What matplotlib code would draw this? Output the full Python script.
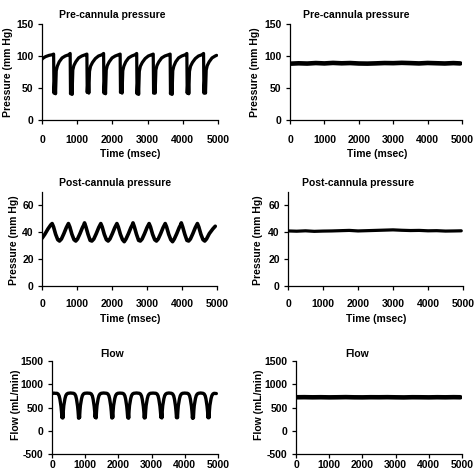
import matplotlib
matplotlib.use("Agg")
import matplotlib.pyplot as plt

# ---------------- data ----------------
# Pre-cannula pressure, pulsatile (left)
pre_t = [0, 40, 100, 200, 290,
         330, 340, 365, 385, 405, 435, 490, 570, 660, 760,
         800, 810, 835, 855, 875, 905, 960, 1040, 1130, 1230,
         1275, 1285, 1310, 1330, 1350, 1380, 1435, 1515, 1605, 1705,
         1750, 1760, 1785, 1805, 1825, 1855, 1910, 1990, 2080, 2175,
         2220, 2230, 2255, 2275, 2295, 2325, 2380, 2460, 2550, 2645,
         2690, 2700, 2725, 2745, 2765, 2795, 2850, 2930, 3020, 3115,
         3160, 3170, 3195, 3215, 3235, 3265, 3320, 3400, 3490, 3595,
         3640, 3650, 3675, 3695, 3715, 3745, 3800, 3880, 3970, 4070,
         4115, 4125, 4150, 4170, 4190, 4220, 4275, 4355, 4445, 4545,
         4590, 4600, 4625, 4645, 4665, 4695, 4750, 4830, 4920, 4960]
pre_p = [95, 97, 99, 101, 102,
         103, 42, 68, 41, 77, 84, 91, 97, 100, 102,
         104, 41, 66, 40, 78, 85, 91, 97, 100, 102,
         103, 43, 69, 42, 76, 84, 90, 96, 100, 102,
         104, 42, 67, 41, 78, 85, 91, 97, 100, 102,
         103, 43, 68, 42, 77, 84, 91, 97, 100, 102,
         104, 41, 67, 40, 76, 84, 90, 96, 100, 102,
         103, 42, 68, 42, 78, 85, 91, 97, 100, 102,
         103, 41, 66, 40, 77, 84, 91, 97, 100, 102,
         104, 42, 68, 41, 76, 84, 90, 96, 100, 102,
         104, 42, 67, 42, 78, 85, 91, 97, 100, 101]

# Post-cannula pressure, pulsatile (left)
post_t = [0, 80, 170, 250, 290, 330, 390, 450, 500, 555,
          625, 695, 735, 755, 795, 855, 915, 965, 1015,
          1085, 1155, 1195, 1215, 1255, 1315, 1375, 1425, 1480,
          1550, 1620, 1660, 1680, 1720, 1780, 1840, 1890, 1940,
          2010, 2080, 2120, 2140, 2180, 2240, 2300, 2350, 2400,
          2470, 2540, 2580, 2600, 2640, 2700, 2760, 2810, 2860,
          2930, 3000, 3040, 3060, 3100, 3160, 3220, 3270, 3320,
          3390, 3460, 3500, 3520, 3560, 3620, 3680, 3730, 3780,
          3850, 3920, 3960, 3980, 4020, 4080, 4140, 4190, 4240,
          4310, 4380, 4420, 4440, 4480, 4540, 4600, 4650, 4700,
          4780, 4880, 4950]
post_p = [35.5, 38.5, 42.5, 45.5, 46.5, 44, 38.5, 34.5, 33.5, 35,
          39, 43.5, 45.5, 46.5, 44, 38.5, 34.5, 33.5, 35,
          39, 43.5, 45.5, 47, 44, 38.5, 34, 33.5, 35,
          39, 43.5, 45.5, 46.5, 44, 38.5, 34.5, 33.5, 35,
          39, 43.5, 45.5, 46.5, 44, 38.5, 34.5, 33, 35,
          39, 43.5, 45.5, 47, 44, 38.5, 34, 33.5, 35,
          39, 43.5, 45.5, 46.5, 44, 38.5, 34.5, 33.5, 35,
          39, 43.5, 45.5, 46.5, 44, 38.5, 34.5, 33, 35,
          39, 43.5, 45.5, 47, 44, 38.5, 34, 33.5, 35,
          39, 43.5, 45.5, 46.5, 44, 38.5, 34.5, 33.5, 35,
          39, 42.5, 44.5]

# Flow, pulsatile (left)
flow_t = [0, 50, 100,
          150, 185, 215, 238, 255, 270, 285, 300, 315, 330, 342, 355, 370, 390, 415, 445, 480, 555,
          650, 685, 715, 738, 755, 770, 785, 800, 815, 830, 842, 855, 870, 890, 915, 945, 980, 1055,
          1150, 1185, 1215, 1238, 1255, 1270, 1285, 1300, 1315, 1330, 1342, 1355, 1370, 1390, 1415, 1445, 1480, 1555,
          1650, 1685, 1715, 1738, 1755, 1770, 1785, 1800, 1815, 1830, 1842, 1855, 1870, 1890, 1915, 1945, 1980, 2045,
          2130, 2165, 2195, 2218, 2235, 2250, 2265, 2280, 2295, 2310, 2322, 2335, 2350, 2370, 2395, 2425, 2460, 2545,
          2630, 2665, 2695, 2718, 2735, 2750, 2765, 2780, 2795, 2810, 2822, 2835, 2850, 2870, 2895, 2925, 2960, 3045,
          3130, 3165, 3195, 3218, 3235, 3250, 3265, 3280, 3295, 3310, 3322, 3335, 3350, 3370, 3395, 3425, 3460, 3520,
          3600, 3635, 3665, 3688, 3705, 3720, 3735, 3750, 3765, 3780, 3792, 3805, 3820, 3840, 3865, 3895, 3930, 3995,
          4080, 4115, 4145, 4168, 4185, 4200, 4215, 4230, 4245, 4260, 4272, 4285, 4300, 4320, 4345, 4375, 4410, 4475,
          4550, 4585, 4615, 4638, 4655, 4670, 4685, 4700, 4715, 4730, 4742, 4755, 4770, 4790, 4815, 4845, 4880,
          4950]
flow_v = [795, 810, 805,
          805, 790, 750, 680, 600, 530, 420, 280, 390, 275, 430, 540, 610, 690, 755, 790, 805, 812,
          805, 790, 750, 680, 600, 530, 420, 270, 390, 280, 430, 540, 610, 690, 755, 790, 805, 810,
          805, 790, 750, 680, 600, 530, 420, 285, 390, 275, 430, 540, 610, 690, 755, 790, 805, 812,
          805, 790, 750, 680, 600, 530, 420, 275, 390, 280, 430, 540, 610, 690, 755, 790, 805, 810,
          805, 790, 750, 680, 600, 530, 420, 280, 390, 270, 430, 540, 610, 690, 755, 790, 805, 812,
          805, 790, 750, 680, 600, 530, 420, 275, 390, 280, 430, 540, 610, 690, 755, 790, 805, 810,
          805, 790, 750, 680, 600, 530, 420, 285, 390, 275, 430, 540, 610, 690, 755, 790, 805, 812,
          805, 790, 750, 680, 600, 530, 420, 280, 390, 280, 430, 540, 610, 690, 755, 790, 805, 810,
          805, 790, 750, 680, 600, 530, 420, 270, 390, 275, 430, 540, 610, 690, 755, 790, 805, 812,
          805, 790, 750, 680, 600, 530, 420, 280, 390, 280, 430, 540, 610, 690, 755, 790, 805,
          800]

# Non-pulsatile traces (right)
flat_t = [0, 250, 500, 750, 1000, 1250, 1500, 1750, 2000, 2250, 2500,
          2750, 3000, 3250, 3500, 3750, 4000, 4250, 4500, 4750, 4950]
pre_flat = [88, 88.6, 88.2, 89.0, 88.4, 89.2, 88.6, 89.0, 88.3, 88.1, 88.5,
            89.0, 88.8, 89.3, 88.9, 88.4, 89.1, 88.7, 88.3, 88.9, 88.4]
post_flat = [41, 40.8, 41.1, 40.7, 40.9, 41.0, 41.2, 41.4, 41.0, 41.2, 41.4,
             41.6, 41.8, 41.5, 41.3, 41.4, 41.1, 41.2, 40.9, 41.0, 41.1]
flow_flat = [720, 722, 719, 721, 718, 720, 723, 719, 718, 721, 720,
             722, 719, 717, 721, 720, 718, 721, 719, 722, 720]

x_ticks = [0, 1000, 2000, 3000, 4000, 5000]
pre_yticks = [0, 50, 100, 150]
post_yticks = [0, 20, 40, 60]
flow_yticks = [-500, 0, 500, 1000, 1500]

title_pre = "Pre-cannula pressure"
title_post = "Post-cannula pressure"
title_flow = "Flow"
ylab_press = "Pressure (mm Hg)"
ylab_flow = "Flow (mL/min)"
xlab = "Time (msec)"

# ---------------- drawing ----------------
plt.rcParams["axes.unicode_minus"] = False
W = H = 474
DPI = 100
FONT = "Liberation Sans"
FS = 7.5
fig = plt.figure(figsize=(W / DPI, H / DPI), dpi=DPI, facecolor="white")


def add_ax(x0, x1, y0, y1):
    return fig.add_axes([x0 / W, 1 - y1 / H, (x1 - x0) / W, (y1 - y0) / H])


def ftext(x, y, s, rot=0):
    fig.text(x / W, 1 - y / H, s, ha="center", va="center", rotation=rot,
             fontsize=FS, fontweight="bold", family=FONT, color="black")


def style(ax, ylim, yticks, xpad=5):
    ax.set_xlim(0, 5000)
    ax.set_ylim(*ylim)
    ax.set_xticks(x_ticks)
    ax.set_yticks(yticks)
    for s in ("top", "right"):
        ax.spines[s].set_visible(False)
    for s in ("left", "bottom"):
        ax.spines[s].set_linewidth(0.9)
    ax.tick_params(direction="out", length=3, width=0.9, labelsize=FS)
    ax.tick_params(axis="x", pad=xpad)
    ax.tick_params(axis="y", pad=3)
    for lab in ax.get_xticklabels() + ax.get_yticklabels():
        lab.set_fontweight("bold")
        lab.set_family(FONT)


panels = [
    # (x0, x1, y0, y1, t, v, ylim, yticks, lw, title, ylabel, title_xy, ylab_xy, xlab_xy, xpad)
    (42, 218, 24, 120, pre_t, pre_p, (0, 150), pre_yticks, 2.3, title_pre, ylab_press,
     (112, 14.5), (8, 72), (130, 154), 8),
    (290, 462, 24, 120, flat_t, pre_flat, (0, 150), pre_yticks, 3.3, title_pre, ylab_press,
     (356, 14.5), (255, 72), (377, 154), 8),
    (42, 217, 192, 286, post_t, post_p, (0, 70), post_yticks, 2.6, title_post, ylab_press,
     (115, 183), (14, 240), (130, 319), 6.5),
    (288, 463, 192, 286, flat_t, post_flat, (0, 70), post_yticks, 2.3, title_post, ylab_press,
     (358, 183), (258, 240), (376, 319), 6.5),
    (52, 218, 361, 454, flow_t, flow_v, (-500, 1500), flow_yticks, 2.4, title_flow, ylab_flow,
     (112, 354), (16, 405), None, 1.5),
    (296, 462, 361, 454, flat_t, flow_flat, (-500, 1500), flow_yticks, 3.3, title_flow, ylab_flow,
     (357, 354), (259, 405), None, 1.5),
]

for (x0, x1, y0, y1, t, v, ylim, yt, lw, ttl, ylab, txy, yxy, xxy, xpad) in panels:
    ax = add_ax(x0, x1, y0, y1)
    ax.plot(t, v, color="black", lw=lw, solid_joinstyle="round", solid_capstyle="round")
    style(ax, ylim, yt, xpad)
    ftext(txy[0], txy[1], ttl)
    ftext(yxy[0], yxy[1], ylab, rot=90)
    if xxy is not None:
        ftext(xxy[0], xxy[1], xlab)

fig.savefig("out.png", dpi=DPI, facecolor="white")
